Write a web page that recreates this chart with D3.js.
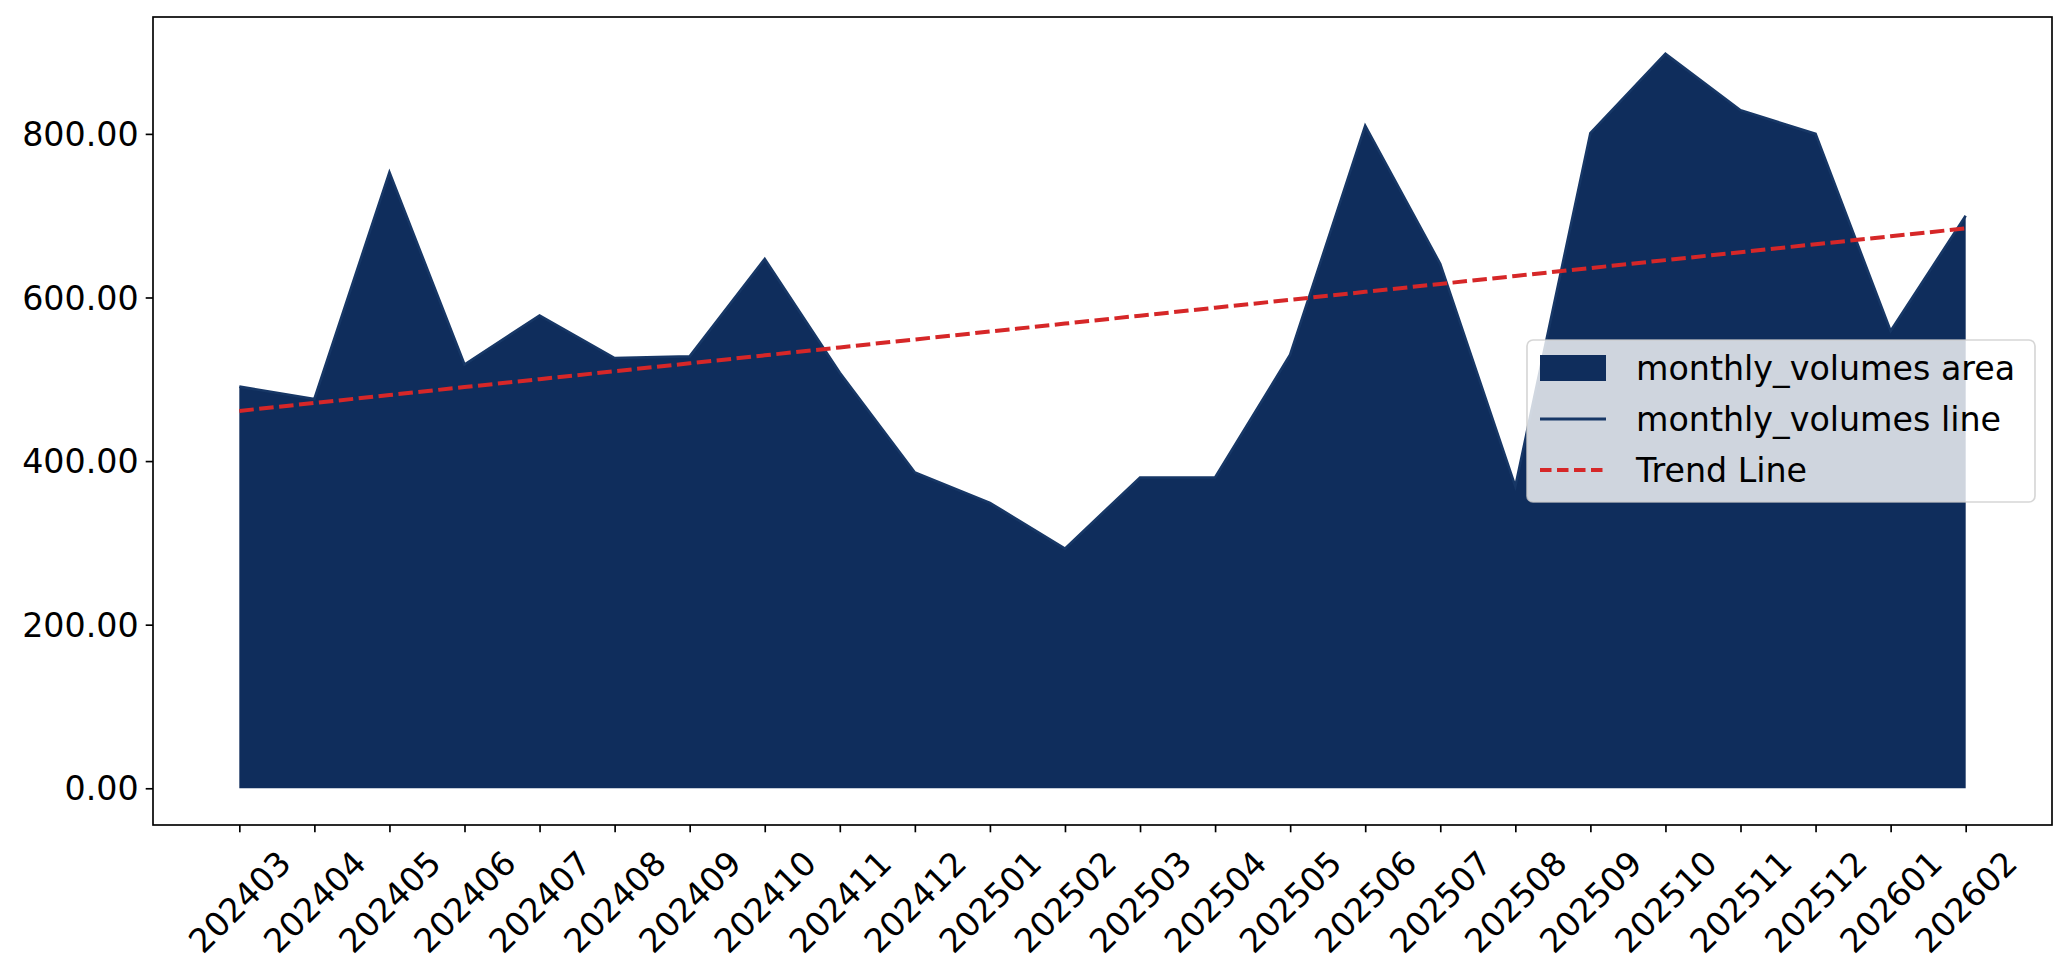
<!DOCTYPE html>
<html>
<head>
<meta charset="utf-8">
<script src="https://cdn.jsdelivr.net/npm/d3@7"></script>
<style>
	html, body { margin: 0; padding: 0; background: #fff; }
	svg { display: block; font-family: 'DejaVu Sans', sans-serif; }
</style>
</head>
<body>
<svg id="volume-chart"></svg>
<script>
var months = ['202403', '202404', '202405', '202406', '202407', '202408', '202409', '202410',
	'202411', '202412', '202501', '202502', '202503', '202504', '202505', '202506',
	'202507', '202508', '202509', '202510', '202511', '202512', '202601', '202602'];

var volumes = [491, 476, 753, 518, 578, 526, 528, 647,
	508, 386, 349, 293, 380, 380, 530, 810,
	641, 369, 801, 898, 829, 800, 559, 700];

var yTicks = [0, 200, 400, 600, 800];

var legendLabels = ['monthly_volumes area', 'monthly_volumes line', 'Trend Line'];

var width = 2069,
    height = 975;

var margin = {left: 153, right: 17, top: 17, bottom: 150};
var fontSize = 33.3;
var navy = '#0f2d5c';
var red = '#d62728';

var svg = d3.select('#volume-chart')
	.attr('width', width)
	.attr('height', height);

var x = d3.scalePoint()
	.domain(months)
	.range([margin.left, width - margin.right])
	.padding(1.15);

var yMin = Math.min(0, d3.min(volumes)),
    yMax = d3.max(volumes),
    pad = (yMax - yMin) * 0.05;

var y = d3.scaleLinear()
	.domain([yMin - pad, yMax + pad])
	.range([height - margin.bottom, margin.top]);

// least squares trend over the month index
var n = volumes.length;
var meanX = (n - 1) / 2,
    meanY = d3.mean(volumes);
var sxy = d3.sum(volumes, (v, i) => (i - meanX) * (v - meanY));
var sxx = d3.sum(volumes, (v, i) => (i - meanX) * (i - meanX));
var slope = sxy / sxx,
    intercept = meanY - slope * meanX;
var trend = months.map((m, i) => intercept + slope * i);

var area = d3.area()
	.x((d, i) => x(months[i]))
	.y0(y(0))
	.y1(d => d);

svg.append('path')
	.datum(volumes.map(v => y(v)))
	.attr('d', area)
	.attr('fill', navy);

var line = d3.line()
	.x((d, i) => x(months[i]))
	.y(d => y(d));

svg.append('path')
	.datum(volumes)
	.attr('d', line)
	.attr('fill', 'none')
	.attr('stroke', '#173766')
	.attr('stroke-width', 2.6);

svg.append('path')
	.datum(trend)
	.attr('d', line)
	.attr('fill', 'none')
	.attr('stroke', red)
	.attr('stroke-width', 4)
	.attr('stroke-dasharray', '14.5,5.5');

// axes
var yAxis = d3.axisLeft(y)
	.tickValues(yTicks)
	.tickSize(7.3)
	.tickPadding(7)
	.tickFormat(d3.format('.2f'));

var gy = svg.append('g')
	.attr('transform', `translate(${margin.left},0)`)
	.call(yAxis);

gy.select('.domain').remove();
gy.selectAll('line').attr('stroke', '#000').attr('stroke-width', 1.67);
gy.selectAll('text')
	.attr('font-size', fontSize)
	.attr('font-family', 'DejaVu Sans')
	.attr('fill', '#000')
	.attr('dy', '0.35em');

var xAxis = d3.axisBottom(x)
	.tickSize(7.3)
	.tickPadding(7);

var gx = svg.append('g')
	.attr('transform', `translate(0,${height - margin.bottom})`)
	.call(xAxis);

gx.select('.domain').remove();
gx.selectAll('line').attr('stroke', '#000').attr('stroke-width', 1.67);
gx.selectAll('text')
	.attr('font-size', fontSize)
	.attr('font-family', 'DejaVu Sans')
	.attr('fill', '#000')
	.attr('text-anchor', 'middle')
	.attr('dominant-baseline', 'central')
	.attr('y', 0)
	.attr('dy', 0)
	.attr('transform', 'translate(0,77) rotate(-45)');

svg.append('rect')
	.attr('x', margin.left)
	.attr('y', margin.top)
	.attr('width', width - margin.left - margin.right)
	.attr('height', height - margin.top - margin.bottom)
	.attr('fill', 'none')
	.attr('stroke', '#000')
	.attr('stroke-width', 1.67);

// legend, centre right
var legW = 508,
    legH = 162,
    legX = width - margin.right - 17 - legW,
    legY = (margin.top + height - margin.bottom) / 2 - legH / 2;

var leg = svg.append('g')
	.attr('transform', `translate(${legX},${legY})`);

leg.append('rect')
	.attr('width', legW)
	.attr('height', legH)
	.attr('rx', 6)
	.attr('fill', '#fff')
	.attr('fill-opacity', 0.8)
	.attr('stroke', '#ccc')
	.attr('stroke-opacity', 0.8)
	.attr('stroke-width', 1.67);

var rowY = [28, 79, 130];

var items = leg.selectAll('.legend-item')
	.data(legendLabels)
	.enter()
	.append('g')
	.attr('class', 'legend-item')
	.attr('transform', (d, i) => `translate(13,${rowY[i]})`);

items.filter((d, i) => i === 0)
	.append('rect')
	.attr('x', 0)
	.attr('y', -13)
	.attr('width', 66)
	.attr('height', 26)
	.attr('fill', navy);

items.filter((d, i) => i === 1)
	.append('line')
	.attr('x1', 0)
	.attr('x2', 66)
	.attr('stroke', '#173766')
	.attr('stroke-width', 3);

items.filter((d, i) => i === 2)
	.append('line')
	.attr('x1', 0)
	.attr('x2', 66)
	.attr('stroke', red)
	.attr('stroke-width', 4)
	.attr('stroke-dasharray', '11.5,5.5');

items.append('text')
	.attr('x', 96)
	.attr('dy', '0.35em')
	.attr('font-size', fontSize)
	.attr('fill', '#000')
	.text(d => d);
</script>
</body>
</html>
